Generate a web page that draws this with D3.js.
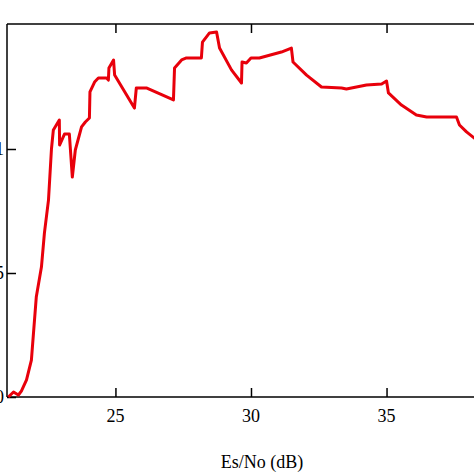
<!DOCTYPE html>
<html><head><meta charset="utf-8">
<script src="https://cdn.jsdelivr.net/npm/d3@7"></script>
<style>body{margin:0;background:#fff}</style></head><body>
<svg id="c" width="474" height="474"></svg>
<script>
const xTicks = [25, 30, 35];
const yTicks = [0, 0.5, 1];
const yTickLabels = ["0", "0.5", "1"];
const xVals = [21.05,21.24,21.42,21.53,21.72,21.90,22.08,22.27,22.38,22.53,22.64,22.71,22.82,22.93,22.94,23.12,23.30,23.41,23.52,23.75,23.89,24.04,24.06,24.23,24.37,24.67,24.74,24.76,24.93,24.97,25.70,25.77,26.14,27.14,27.18,27.44,27.62,28.17,28.21,28.47,28.73,28.84,29.28,29.65,29.67,29.83,30.0,30.31,31.12,31.49,31.55,32.05,32.6,33.34,33.52,34.26,34.82,35.0,35.07,35.55,36.1,36.48,37.58,37.69,37.95,38.4];
const yVals = [0,0.02,0.008,0.024,0.069,0.149,0.403,0.524,0.661,0.794,1.0,1.077,1.097,1.117,1.016,1.06,1.06,0.887,0.996,1.089,1.109,1.125,1.23,1.27,1.286,1.286,1.278,1.327,1.359,1.298,1.165,1.246,1.246,1.198,1.327,1.359,1.367,1.367,1.431,1.468,1.472,1.407,1.319,1.266,1.351,1.347,1.367,1.367,1.391,1.407,1.351,1.298,1.25,1.246,1.242,1.258,1.262,1.274,1.226,1.177,1.137,1.129,1.129,1.097,1.069,1.03];
const xLabel = "Es/No (dB)";

const svg = d3.select("#c");
const x = d3.scaleLinear().domain([21.0, 38.3]).range([7, 476]);
const y = d3.scaleLinear().domain([0, 1.5]).range([397, 25]);
const font = "'Liberation Serif', 'Times New Roman', serif";

svg.append("g").attr("transform","translate(0,397)")
  .call(d3.axisTop(x).tickValues(xTicks).tickSize(9).tickFormat(""))
  .call(g=>g.select(".domain").remove())
  .selectAll("line").attr("stroke","#000").attr("stroke-width",1.5);
svg.append("g").attr("transform","translate(0,24)")
  .call(d3.axisBottom(x).tickValues(xTicks).tickSize(9).tickFormat(""))
  .call(g=>g.select(".domain").remove())
  .selectAll("line").attr("stroke","#000").attr("stroke-width",1.5);
svg.append("g").attr("transform","translate(7,0)")
  .call(d3.axisRight(y).tickValues(yTicks).tickSize(9).tickFormat(""))
  .call(g=>g.select(".domain").remove())
  .selectAll("line").attr("stroke","#000").attr("stroke-width",1.5);

svg.append("line").attr("x1",7).attr("x2",474).attr("y1",397).attr("y2",397).attr("stroke","#000").attr("stroke-width",1.5);
svg.append("line").attr("x1",7).attr("x2",474).attr("y1",24).attr("y2",24).attr("stroke","#000").attr("stroke-width",1.5);
svg.append("line").attr("x1",7).attr("x2",7).attr("y1",24).attr("y2",397).attr("stroke","#000").attr("stroke-width",1.5);

svg.selectAll(".xt").data(xTicks).join("text")
  .attr("x",d=>x(d)).attr("y",422).attr("text-anchor","middle")
  .attr("font-family",font).attr("font-size",18).text(d=>d);
svg.selectAll(".yt").data(yTicks).join("text")
  .attr("x",4).attr("y",d=>y(d)+6).attr("text-anchor","end")
  .attr("font-family",font).attr("font-size",18).text((d,i)=>yTickLabels[i]);
svg.append("text").attr("x",262).attr("y",468).attr("text-anchor","middle")
  .attr("font-family",font).attr("font-size",18).text(xLabel);

const pts = xVals.map((v,i)=>[v,yVals[i]]);
svg.append("path").datum(pts)
  .attr("d", d3.line().x(d=>x(d[0])).y(d=>y(d[1])))
  .attr("fill","none").attr("stroke","#e8000b").attr("stroke-width",3).attr("stroke-linejoin","round");
</script></body></html>
